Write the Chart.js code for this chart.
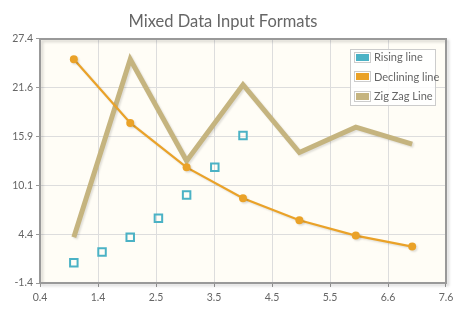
<!DOCTYPE html>
<html>
<head>
<meta charset="utf-8">
<script src="https://cdn.jsdelivr.net/npm/chart.js@4.4.1/dist/chart.umd.min.js"></script>
<style>
  html, body { margin: 0; padding: 0; background: #ffffff; }
  #wrap { width: 474px; height: 326px; position: relative; }
</style>
</head>
<body>
<div id="wrap"><canvas id="c" width="474" height="326"></canvas></div>
<script>
const chartTitle = 'Mixed Data Input Formats';
const seriesLabels = ['Rising line', 'Declining line', 'Zig Zag Line'];
const seriesColors = ['#4bb2c5', '#EAA228', '#c5b47f'];
const risingX = [1, 1.5, 2, 2.5, 3, 3.5, 4];
const risingY = [1, 2.25, 4, 6.25, 9, 12.25, 16];
const lineX = [1, 2, 3, 4, 5, 6, 7];
const decliningY = [25, 17.5, 12.25, 8.6, 6.0, 4.2, 2.9];
const zigzagY = [4, 25, 13, 22, 14, 17, 15];
const xTickLabels = ['0.4', '1.4', '2.5', '3.5', '4.5', '5.5', '6.6', '7.6'];
const yTickLabels = ['-1.4', '4.4', '10.1', '15.9', '21.6', '27.4'];

const FONT = 'Lato, "DejaVu Sans", sans-serif';
const xMin = parseFloat(xTickLabels[0]), xMax = parseFloat(xTickLabels[xTickLabels.length - 1]);
const yMin = parseFloat(yTickLabels[0]), yMax = parseFloat(yTickLabels[yTickLabels.length - 1]);

function pts(xs, ys) { return xs.map((x, i) => ({ x: x, y: ys[i] })); }
function evenTicks(labels, min, max) {
  return labels.map((l, i) => ({ value: min + i * (max - min) / (labels.length - 1) }));
}

const plotDecor = {
  id: 'plotDecor',
  beforeDraw(chart) {
    const { ctx, chartArea: a } = chart;
    ctx.save();
    ctx.fillStyle = '#fffdf6';
    ctx.fillRect(a.left, a.top, a.right - a.left, a.bottom - a.top);
    ctx.restore();
  },
  beforeDatasetsDraw(chart) {
    const { ctx, chartArea: a } = chart;
    ctx.save();
    ctx.shadowColor = 'rgba(0,0,0,0.18)';
    ctx.shadowBlur = 3;
    ctx.shadowOffsetX = 2;
    ctx.shadowOffsetY = 2;
    ctx.strokeStyle = '#999999';
    ctx.lineWidth = 2;
    ctx.strokeRect(a.left, a.top, a.right - a.left, a.bottom - a.top);
    ctx.restore();
  },
  beforeDatasetDraw(chart, args) {
    const ctx = chart.ctx;
    ctx.save();
    if (args.index !== 0) {
      ctx.shadowColor = 'rgba(0,0,0,0.12)';
      ctx.shadowBlur = 2;
      ctx.shadowOffsetX = 1.5;
      ctx.shadowOffsetY = 1.5;
    }
  },
  afterDatasetDraw(chart) {
    chart.ctx.restore();
  },
  afterDraw(chart) {
    const ctx = chart.ctx;
    const left = 350, top = 49, w = 85, rowH = 19.5, h = 56;
    ctx.save();
    ctx.fillStyle = 'rgba(255,255,255,0.85)';
    ctx.fillRect(left, top, w, h);
    ctx.strokeStyle = '#cccccc';
    ctx.lineWidth = 1;
    ctx.strokeRect(left + 0.5, top + 0.5, w, h);
    ctx.font = '11px ' + FONT;
    ctx.textBaseline = 'middle';
    ctx.textAlign = 'left';
    chart.data.datasets.forEach((ds, i) => {
      const cy = top + 8.5 + i * rowH;
      ctx.strokeStyle = '#cccccc';
      ctx.strokeRect(left + 4.5, Math.round(cy) - 5.5, 16, 10);
      ctx.fillStyle = seriesColors[i];
      ctx.fillRect(left + 6, Math.round(cy) - 4, 13, 7);
      ctx.fillStyle = '#666666';
      ctx.fillText(ds.label, left + 24, cy);
    });
    ctx.restore();
  }
};

new Chart(document.getElementById('c'), {
  type: 'scatter',
  data: {
    datasets: [
      {
        label: seriesLabels[0],
        data: pts(risingX, risingY),
        showLine: false,
        pointStyle: 'rect',
        pointRadius: 5.3,
        borderWidth: 2,
        borderColor: seriesColors[0],
        backgroundColor: 'rgba(0,0,0,0)'
      },
      {
        label: seriesLabels[1],
        data: pts(lineX, decliningY),
        showLine: true,
        borderColor: seriesColors[1],
        backgroundColor: seriesColors[1],
        borderWidth: 2.2,
        pointRadius: 4,
        pointBorderWidth: 0,
        tension: 0
      },
      {
        label: seriesLabels[2],
        data: pts(lineX, zigzagY),
        showLine: true,
        borderColor: seriesColors[2],
        backgroundColor: seriesColors[2],
        borderWidth: 5,
        pointRadius: 0,
        tension: 0,
        borderJoinStyle: 'miter'
      }
    ]
  },
  options: {
    responsive: false,
    animation: false,
    layout: { padding: { left: 0, right: 28, top: 0, bottom: 0 } },
    plugins: {
      legend: { display: false },
      tooltip: { enabled: false },
      title: {
        display: true,
        text: chartTitle,
        color: '#666666',
        font: { family: FONT, size: 16.5, weight: 'normal', lineHeight: 1.2 },
        padding: { top: 11.5, bottom: 7.7 }
      }
    },
    scales: {
      x: {
        type: 'linear',
        min: xMin, max: xMax,
        afterBuildTicks: (s) => { s.ticks = evenTicks(xTickLabels, xMin, xMax); },
        afterFit: (s) => { s.height = 43; },
        ticks: {
          autoSkip: false, maxRotation: 0, padding: 4,
          color: '#666666',
          font: { family: FONT, size: 10.5 },
          callback: (v, i) => xTickLabels[i]
        },
        grid: { color: '#dddddd', tickColor: '#999999', tickLength: 4, lineWidth: 1 },
        border: { display: false }
      },
      y: {
        type: 'linear',
        min: yMin, max: yMax,
        afterBuildTicks: (s) => { s.ticks = evenTicks(yTickLabels, yMin, yMax); },
        afterFit: (s) => { s.width = 40; },
        ticks: {
          autoSkip: false, padding: 3,
          color: '#666666',
          font: { family: FONT, size: 10.5 },
          callback: (v, i) => yTickLabels[i]
        },
        grid: { color: '#dddddd', tickColor: '#999999', tickLength: 4, lineWidth: 1 },
        border: { display: false }
      }
    }
  },
  plugins: [plotDecor]
});
</script>
</body>
</html>
